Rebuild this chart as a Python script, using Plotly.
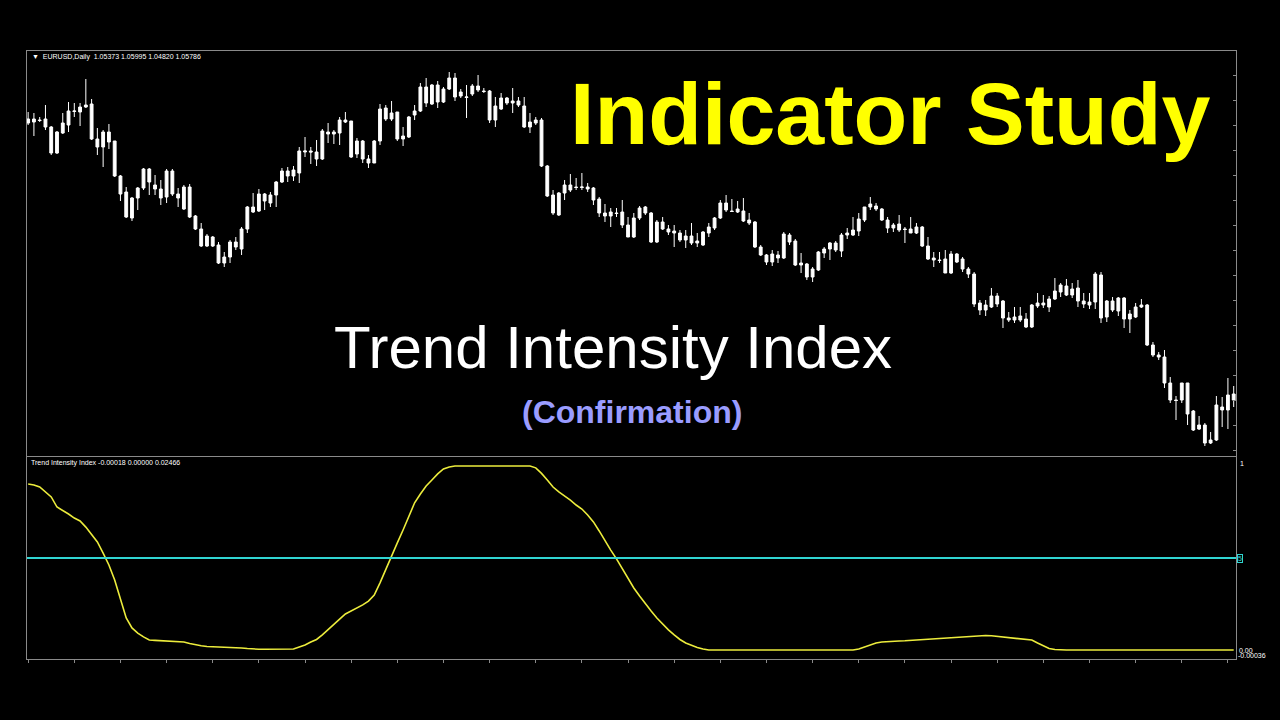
import plotly.graph_objects as go

# ---------------- data (EURUSD daily) ----------------
bar_index = list(range(210))

opens = [
    1.1154, 1.1156, 1.1160, 1.1162, 1.1146, 1.1094, 1.1134, 1.1150, 1.1177, 1.1176,
    1.1190, 1.1192, 1.1106, 1.1106, 1.1136, 1.1118, 1.1048, 1.1016, 1.0964, 1.1004,
    1.1062, 1.1062, 1.1030, 1.1004, 1.1006, 1.1058, 1.1012, 1.1026, 1.1026, 1.0968,
    1.0908, 1.0928, 1.0926, 1.0874, 1.0874, 1.0886, 1.0906, 1.0902, 1.0942, 1.0976,
    1.0978, 1.1012, 1.0994, 1.1010, 1.1036, 1.1048, 1.1048, 1.1054, 1.1096, 1.1098,
    1.1082, 1.1082, 1.1132, 1.1132, 1.1134, 1.1160, 1.1158, 1.1118, 1.1118, 1.1074,
    1.1074, 1.1118, 1.1184, 1.1174, 1.1176, 1.1122, 1.1126, 1.1170, 1.1178, 1.1194,
    1.1192, 1.1230, 1.1196, 1.1244, 1.1244, 1.1216, 1.1205, 1.1212, 1.1228, 1.1218,
    1.1218, 1.1160, 1.1182, 1.1204, 1.1194, 1.1198, 1.1188, 1.1146, 1.1154, 1.1160,
    1.1068, 1.1010, 1.0970, 1.1014, 1.1030, 1.1026, 1.1025, 1.1026, 1.1024, 1.1002,
    1.0974, 1.0968, 1.0974, 1.0976, 1.0950, 1.0926, 1.0964, 1.0986, 1.0974, 1.0916,
    1.0956, 1.0942, 1.0938, 1.0934, 1.0920, 1.0928, 1.0914, 1.0910, 1.0934, 1.0944,
    1.0964, 1.0994, 1.0978, 1.0976, 1.0978, 1.0960, 1.0956, 1.0906, 1.0890, 1.0876,
    1.0890, 1.0884, 1.0930, 1.0918, 1.0870, 1.0872, 1.0846, 1.0860, 1.0894, 1.0902,
    1.0914, 1.0898, 1.0930, 1.0930, 1.0938, 1.0960, 1.0986, 1.0988, 1.0982, 1.0960,
    1.0944, 1.0952, 1.0942, 1.0942, 1.0934, 1.0946, 1.0908, 1.0884, 1.0880, 1.0882,
    1.0854, 1.0892, 1.0882, 1.0862, 1.0852, 1.0794, 1.0780, 1.0786, 1.0808, 1.0798,
    1.0764, 1.0760, 1.0768, 1.0762, 1.0746, 1.0788, 1.0794, 1.0786, 1.0802, 1.0816,
    1.0828, 1.0810, 1.0824, 1.0798, 1.0790, 1.0796, 1.0850, 1.0766, 1.0798, 1.0778,
    1.0804, 1.0762, 1.0766, 1.0786, 1.0790, 1.0710, 1.0690, 1.0686, 1.0634, 1.0600,
    1.0600, 1.0634, 1.0578, 1.0542, 1.0550, 1.0514, 1.0520, 1.0586, 1.0580, 1.0600,
]

highs = [
    1.1176, 1.1174, 1.1166, 1.1190, 1.1148, 1.1138, 1.1174, 1.1196, 1.1194, 1.1194,
    1.1242, 1.1202, 1.1144, 1.1140, 1.1152, 1.1118, 1.1050, 1.1026, 1.1006, 1.1026,
    1.1064, 1.1064, 1.1050, 1.1040, 1.1062, 1.1062, 1.1024, 1.1030, 1.1032, 1.0970,
    1.0954, 1.0932, 1.0928, 1.0916, 1.0896, 1.0920, 1.0926, 1.0946, 1.0988, 1.1014,
    1.1022, 1.1014, 1.1016, 1.1038, 1.1064, 1.1066, 1.1068, 1.1106, 1.1126, 1.1106,
    1.1120, 1.1142, 1.1154, 1.1140, 1.1166, 1.1176, 1.1158, 1.1124, 1.1120, 1.1090,
    1.1120, 1.1192, 1.1190, 1.1198, 1.1176, 1.1146, 1.1168, 1.1190, 1.1234, 1.1244,
    1.1232, 1.1238, 1.1226, 1.1256, 1.1254, 1.1222, 1.1230, 1.1232, 1.1250, 1.1224,
    1.1220, 1.1206, 1.1214, 1.1206, 1.1224, 1.1206, 1.1206, 1.1174, 1.1166, 1.1164,
    1.1070, 1.1020, 1.1016, 1.1040, 1.1052, 1.1044, 1.1054, 1.1034, 1.1026, 1.1006,
    1.0992, 1.0984, 1.0984, 1.1000, 1.0966, 1.0974, 1.0988, 1.0988, 1.0976, 1.0960,
    1.0966, 1.0950, 1.0950, 1.0940, 1.0940, 1.0954, 1.0934, 1.0938, 1.0954, 1.0966,
    1.1000, 1.1010, 1.1002, 1.0998, 1.1004, 1.0974, 1.0958, 1.0910, 1.0892, 1.0900,
    1.0898, 1.0936, 1.0934, 1.0922, 1.0894, 1.0874, 1.0866, 1.0898, 1.0906, 1.0916,
    1.0918, 1.0934, 1.0944, 1.0966, 1.0974, 1.0986, 1.1006, 1.0994, 1.0984, 1.0966,
    1.0954, 1.0970, 1.0946, 1.0966, 1.0954, 1.0948, 1.0926, 1.0896, 1.0896, 1.0900,
    1.0898, 1.0894, 1.0886, 1.0866, 1.0856, 1.0800, 1.0800, 1.0824, 1.0814, 1.0800,
    1.0776, 1.0786, 1.0786, 1.0774, 1.0792, 1.0814, 1.0810, 1.0808, 1.0844, 1.0834,
    1.0842, 1.0834, 1.0840, 1.0814, 1.0814, 1.0856, 1.0856, 1.0800, 1.0806, 1.0806,
    1.0806, 1.0780, 1.0794, 1.0802, 1.0792, 1.0716, 1.0696, 1.0700, 1.0646, 1.0608,
    1.0634, 1.0634, 1.0580, 1.0568, 1.0554, 1.0536, 1.0608, 1.0606, 1.0644, 1.0628,
]

lows = [
    1.1150, 1.1128, 1.1156, 1.1140, 1.1090, 1.1092, 1.1132, 1.1136, 1.1166, 1.1148,
    1.1184, 1.1120, 1.1090, 1.1066, 1.1102, 1.1046, 1.0998, 1.0964, 1.0958, 1.0980,
    1.1020, 1.1010, 1.1010, 1.0990, 1.0994, 1.1008, 1.0986, 1.0980, 1.0964, 1.0940,
    1.0906, 1.0906, 1.0906, 1.0872, 1.0866, 1.0874, 1.0900, 1.0890, 1.0934, 1.0974,
    1.0976, 1.0980, 1.0986, 1.0986, 1.1034, 1.1036, 1.1038, 1.1034, 1.1086, 1.1072,
    1.1068, 1.1080, 1.1114, 1.1112, 1.1110, 1.1154, 1.1084, 1.1084, 1.1074, 1.1064,
    1.1074, 1.1110, 1.1158, 1.1158, 1.1118, 1.1108, 1.1124, 1.1160, 1.1176, 1.1186,
    1.1190, 1.1184, 1.1194, 1.1220, 1.1198, 1.1204, 1.1164, 1.1208, 1.1216, 1.1214,
    1.1154, 1.1146, 1.1180, 1.1190, 1.1174, 1.1186, 1.1144, 1.1134, 1.1150, 1.1066,
    1.1006, 1.0970, 1.0968, 1.1000, 1.1016, 1.1020, 1.1020, 1.1016, 1.0990, 1.0966,
    1.0956, 1.0946, 1.0966, 1.0944, 1.0926, 1.0924, 1.0960, 1.0970, 1.0914, 1.0914,
    1.0940, 1.0930, 1.0906, 1.0916, 1.0904, 1.0910, 1.0906, 1.0908, 1.0926, 1.0940,
    1.0962, 1.0976, 1.0976, 1.0974, 1.0956, 1.0950, 1.0904, 1.0888, 1.0870, 1.0868,
    1.0874, 1.0882, 1.0910, 1.0868, 1.0854, 1.0840, 1.0836, 1.0858, 1.0884, 1.0880,
    1.0896, 1.0886, 1.0922, 1.0928, 1.0928, 1.0956, 1.0980, 1.0978, 1.0958, 1.0934,
    1.0936, 1.0936, 1.0914, 1.0934, 1.0932, 1.0906, 1.0880, 1.0866, 1.0874, 1.0854,
    1.0852, 1.0874, 1.0856, 1.0844, 1.0786, 1.0770, 1.0768, 1.0784, 1.0786, 1.0744,
    1.0756, 1.0754, 1.0756, 1.0744, 1.0744, 1.0784, 1.0784, 1.0776, 1.0800, 1.0806,
    1.0808, 1.0804, 1.0786, 1.0784, 1.0782, 1.0782, 1.0754, 1.0756, 1.0776, 1.0768,
    1.0744, 1.0734, 1.0764, 1.0784, 1.0708, 1.0686, 1.0680, 1.0624, 1.0594, 1.0560,
    1.0594, 1.0550, 1.0538, 1.0540, 1.0508, 1.0512, 1.0518, 1.0546, 1.0542, 1.0586,
]

closes = [
    1.1162, 1.1162, 1.1159, 1.1146, 1.1094, 1.1136, 1.1154, 1.1178, 1.1178, 1.1186,
    1.1186, 1.1122, 1.1122, 1.1136, 1.1116, 1.1048, 1.1012, 1.0966, 1.1004, 1.1024,
    1.1024, 1.1036, 1.1022, 1.1022, 1.1058, 1.1012, 1.1004, 1.0982, 1.0966, 1.0942,
    1.0942, 1.0908, 1.0908, 1.0910, 1.0886, 1.0916, 1.0916, 1.0942, 1.0986, 1.0986,
    1.1012, 1.0998, 1.1010, 1.1036, 1.1058, 1.1058, 1.1060, 1.1098, 1.1098, 1.1096,
    1.1096, 1.1138, 1.1136, 1.1136, 1.1160, 1.1156, 1.1086, 1.1092, 1.1082, 1.1082,
    1.1118, 1.1182, 1.1162, 1.1162, 1.1122, 1.1128, 1.1166, 1.1178, 1.1226, 1.1226,
    1.1230, 1.1196, 1.1222, 1.1222, 1.1206, 1.1208, 1.1206, 1.1228, 1.1220, 1.1217,
    1.1160, 1.1188, 1.1204, 1.1194, 1.1198, 1.1190, 1.1146, 1.1156, 1.1160, 1.1068,
    1.1008, 1.0974, 1.1014, 1.1030, 1.1020, 1.1025, 1.1026, 1.1022, 1.1000, 1.0974,
    1.0968, 1.0976, 1.0973, 1.0950, 1.0926, 1.0964, 1.0984, 1.0974, 1.0916, 1.0956,
    1.0942, 1.0936, 1.0934, 1.0920, 1.0928, 1.0914, 1.0918, 1.0936, 1.0946, 1.0964,
    1.0994, 1.0980, 1.0977, 1.0982, 1.0958, 1.0954, 1.0906, 1.0890, 1.0876, 1.0892,
    1.0884, 1.0932, 1.0916, 1.0870, 1.0874, 1.0846, 1.0862, 1.0896, 1.0902, 1.0914,
    1.0900, 1.0930, 1.0934, 1.0940, 1.0962, 1.0986, 1.0992, 1.0982, 1.0960, 1.0944,
    1.0950, 1.0940, 1.0941, 1.0934, 1.0946, 1.0908, 1.0882, 1.0880, 1.0879, 1.0854,
    1.0892, 1.0876, 1.0862, 1.0852, 1.0792, 1.0780, 1.0790, 1.0808, 1.0792, 1.0764,
    1.0760, 1.0766, 1.0760, 1.0746, 1.0790, 1.0794, 1.0790, 1.0802, 1.0818, 1.0830,
    1.0810, 1.0822, 1.0798, 1.0792, 1.0796, 1.0852, 1.0764, 1.0798, 1.0780, 1.0804,
    1.0762, 1.0772, 1.0786, 1.0790, 1.0710, 1.0690, 1.0686, 1.0634, 1.0600, 1.0599,
    1.0634, 1.0572, 1.0540, 1.0550, 1.0514, 1.0520, 1.0590, 1.0580, 1.0610, 1.0612,
]

tii = [
    90.2, 89.7, 88.6, 85.9, 83.2, 77.7, 76.0, 73.9, 71.7, 70.1,
    66.8, 63.0, 58.7, 52.7, 46.2, 38.0, 27.2, 17.4, 12.0, 9.2,
    7.1, 5.4, 5.2, 5.1, 5.0, 4.8, 4.6, 4.3, 3.5, 2.7,
    2.3, 1.9, 1.8, 1.6, 1.6, 1.5, 1.4, 1.1, 0.8, 0.5,
    0.4, 0.4, 0.4, 0.4, 0.4, 0.4, 0.5, 1.6, 2.7, 4.3,
    5.7, 8.2, 10.9, 13.6, 16.8, 19.6, 21.2, 22.8, 24.5, 26.6,
    29.9, 36.5, 44.0, 51.6, 58.2, 65.2, 72.8, 80.0, 84.8, 89.1,
    92.4, 95.7, 98.4, 99.5, 100, 100, 100, 100, 100, 100,
    100, 100, 100, 100, 100, 100, 100, 100, 99.0, 96.0,
    92.4, 88.6, 85.9, 83.7, 81.5, 78.8, 76.6, 73.4, 69.6, 64.7,
    59.2, 54.3, 49.5, 44.0, 39.1, 33.7, 29.3, 25.0, 21.2, 17.4,
    14.1, 10.9, 8.2, 5.7, 3.8, 2.4, 1.4, 0.5, 0, 0,
    0, 0, 0, 0, 0, 0, 0, 0, 0, 0,
    0, 0, 0, 0, 0, 0, 0, 0, 0, 0,
    0, 0, 0, 0, 0.5, 1.6, 2.7, 3.8, 4.3, 4.6,
    4.8, 4.9, 5.0, 5.2, 5.4, 5.6, 5.8, 6.0, 6.2, 6.5,
    6.8, 7.1, 7.3, 7.5, 7.6, 7.8, 7.9, 7.7, 7.4, 7.1,
    6.8, 6.5, 6.2, 6.0, 5.4, 3.8, 2.2, 0.8, 0.3, 0,
    0, 0, 0, 0, 0, 0, 0, 0, 0, 0,
    0, 0, 0, 0, 0, 0, 0, 0, 0, 0,
    0, 0, 0, 0, 0, 0, 0, 0, 0, 0,
]

tii_level = 50
header_text = "\u25BC  EURUSD,Daily  1.05373 1.05995 1.04820 1.05786"
indicator_header = "Trend Intensity Index -0.00018 0.00000 0.02466"

# ---------------- figure ----------------
W, H = 1280, 720
FRAME = "#8a8a8a"


def px(x):
    return x / W


def py(y):
    return 1 - y / H


fig = go.Figure()

fig.add_trace(go.Candlestick(
    x=bar_index, open=opens, high=highs, low=lows, close=closes,
    xaxis="x2", yaxis="y2",
    increasing=dict(line=dict(color="white", width=1), fillcolor="white"),
    decreasing=dict(line=dict(color="white", width=1), fillcolor="white"),
    whiskerwidth=0, showlegend=False, hoverinfo="skip",
))

fig.add_trace(go.Scatter(
    x=bar_index, y=tii, mode="lines", xaxis="x", yaxis="y",
    line=dict(color="#ecec3c", width=1.6), showlegend=False, hoverinfo="skip",
))

fig.add_trace(go.Scatter(
    x=[bar_index[0] - 0.2, bar_index[-1] + 0.4], y=[tii_level, tii_level],
    mode="lines", xaxis="x", yaxis="y",
    line=dict(color="#30d5d2", width=2), showlegend=False, hoverinfo="skip",
))

xr = [-0.2, 209.4]
common_axis = dict(showgrid=False, zeroline=False, showline=True, mirror=True,
                   linecolor=FRAME, linewidth=1)

fig.update_layout(
    width=W, height=H,
    paper_bgcolor="black", plot_bgcolor="black",
    margin=dict(l=0, r=0, t=0, b=0),
    showlegend=False,
    xaxis=dict(domain=[px(27), px(1236)], anchor="y", range=xr,
               ticks="outside", ticklen=3, tickcolor=FRAME, tick0=0, dtick=8,
               showticklabels=False, rangeslider=dict(visible=False), **common_axis),
    yaxis=dict(domain=[py(659), py(457)], anchor="x", range=[-4.9, 104.9],
               side="right", showticklabels=False, ticks="", **common_axis),
    xaxis2=dict(domain=[px(27), px(1236)], anchor="y2", range=xr, matches="x",
                showticklabels=False, ticks="", rangeslider=dict(visible=False),
                **common_axis),
    yaxis2=dict(domain=[py(456), py(51)], anchor="x2", range=[1.0488, 1.1298],
                side="right", showticklabels=False, ticks="inside", ticklen=3,
                tickcolor=FRAME, dtick=0.0050, **common_axis),
)

ann = []
ann.append(dict(text=header_text, x=px(30), y=py(57), xanchor="left", yanchor="middle",
                font=dict(family="Liberation Sans", size=7, color="white")))
ann.append(dict(text=indicator_header, x=px(29), y=py(463), xanchor="left", yanchor="middle",
                font=dict(family="Liberation Sans", size=7, color="white")))
ann.append(dict(text="<b>Indicator Study</b>", x=px(890), y=py(113), xanchor="center",
                yanchor="middle",
                font=dict(family="Liberation Sans", size=88, color="#ffff00")))
ann.append(dict(text="Trend Intensity Index", x=px(613), y=py(347), xanchor="center",
                yanchor="middle",
                font=dict(family="Liberation Sans", size=60, color="white")))
ann.append(dict(text="<b>(Confirmation)</b>", x=px(632), y=py(412), xanchor="center",
                yanchor="middle",
                font=dict(family="Liberation Sans", size=32, color="#9a9cff")))
ann.append(dict(text="1", x=px(1238), y=py(463), xanchor="left", yanchor="middle",
                font=dict(family="Liberation Sans", size=7, color="white")))
ann.append(dict(text="5", x=px(1237), y=py(558), xanchor="left", yanchor="middle",
                bordercolor="#30d5d2", borderwidth=1, borderpad=0, bgcolor="black",
                font=dict(family="Liberation Sans", size=7, color="#30d5d2")))
ann.append(dict(text="0.00", x=px(1237), y=py(650), xanchor="left", yanchor="middle",
                font=dict(family="Liberation Sans", size=7, color="white")))
ann.append(dict(text="-0.00036", x=px(1236), y=py(655), xanchor="left", yanchor="middle",
                font=dict(family="Liberation Sans", size=7, color="white")))
for a in ann:
    a.update(xref="paper", yref="paper", showarrow=False)
fig.update_layout(annotations=ann)

fig.write_html(
    "out.html",
    config={"displayModeBar": False},
    post_script="document.body.style.margin='0';document.body.style.background='black';",
)
